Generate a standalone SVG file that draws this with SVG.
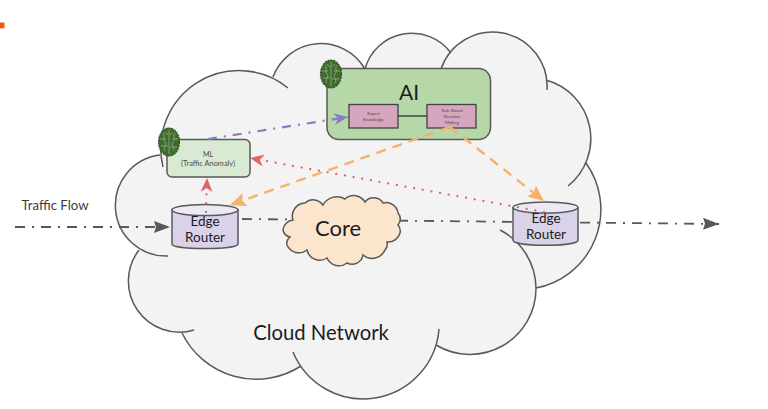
<svg xmlns="http://www.w3.org/2000/svg" width="768" height="409" viewBox="0 0 768 409">
<style>
text{font-family:Lato,"Open Sans",sans-serif;fill:#1c1c1c;text-anchor:middle}
.small{fill:#4a4a4a}
.db{fill:#d9d2e9;stroke:#595959;stroke-width:1.5}
.pink{fill:#d5a6bd;stroke:#434343;stroke-width:1.3}
.flow{fill:none;stroke:#595959;stroke-width:1.8;stroke-dasharray:10 7 2 7}
.orange{fill:none;stroke:#f6b26b;stroke-width:2.4;stroke-dasharray:10 7}
.red{fill:none;stroke:#e06666;stroke-width:2.2;stroke-linecap:round;stroke-dasharray:.1 8.7}
.purple{fill:none;stroke:#8e7cc3;stroke-width:2.2;stroke-dasharray:9 7 2 7}
</style>
<defs>
<marker id="ag" markerWidth="18" markerHeight="14" refX="16" refY="7" orient="auto" markerUnits="userSpaceOnUse"><path d="M0 1L16 7L0 13L2 7Z" fill="#595959"/></marker>
<marker id="ao" markerWidth="18" markerHeight="16" refX="16" refY="8" orient="auto" markerUnits="userSpaceOnUse"><path d="M0 1L16 8L0 15L3 8Z" fill="#f6b26b"/></marker>
<marker id="ar" markerWidth="16" markerHeight="14" refX="14" refY="7" orient="auto" markerUnits="userSpaceOnUse"><path d="M0 1L14 7L0 13L4 7Z" fill="#e06666"/></marker>
<marker id="ap" markerWidth="16" markerHeight="14" refX="14" refY="7" orient="auto" markerUnits="userSpaceOnUse"><path d="M0 1L14 7L0 13L4 7Z" fill="#8e7cc3"/></marker>
<g id="brain">
<ellipse rx="10.500" ry="14" fill="#3f6b2f" stroke="#38572a" stroke-width="1.200" stroke-dasharray="2 1"/>
<path d="M0-12V12M-6-9C-3-6-7-3-4 0S-7 6-4 9M6-9C3-6 7-3 4 0S7 6 4 9M-9-3H-3M3-3H9M-8 4H-1M1 5H8M-4-10L-1-7M4-10L1-7" fill="none" stroke="#a9c79a" stroke-width=".6"/>
</g>
</defs>
<rect width="768" height="409" fill="#fff"/>
<rect x="0" y="22.500" width="4.500" height="5.800" fill="#ee5a0c"/>
<g id="cloud-network">
<path fill="#f3f3f3" d="M163 160L273 77L365 69L451 53L546 81L586 163L536 288L436 345L301 366L182 333L139 250Z"/>
<path fill="#f3f3f3" stroke="#595959" stroke-width="1.500" d="M163 167A78 78 0 0 1 288 88M273 77A51 51 0 0 1 365 69M365 69A48.600 48.600 0 0 1 451 53M441 69A54.500 54.500 0 0 1 547 90M546 80A60.700 60.700 0 0 1 568 186M586 163A80 80 0 0 1 536 288M500 230A66 66 0 0 1 536 288A66 66 0 0 1 436 345M439 329A76 76 0 0 1 293 352M301 366A82.600 82.600 0 0 1 182 333M194 330A51 51 0 0 1 139 250M168 256A50.700 50.700 0 0 1 160 155"/>
<text x="321" y="340" font-size="20.300">Cloud Network</text>
</g>
<g id="traffic-connectors">
<path class="flow" d="M15 227H170" marker-end="url(#ag)"/>
<path class="flow" d="M242 219L719 224" marker-end="url(#ag)"/>
</g>
<g id="ai">
<rect x="327" y="68.500" width="163.500" height="71" rx="12" fill="#b6d7a8" stroke="#595959" stroke-width="1.500"/>
<text x="409" y="100" font-size="21">AI</text>
</g>
<g id="expert-knowledge">
<rect class="pink" x="349" y="104.500" width="49" height="23.500"/>
<text class="small" x="373.500" y="115" font-size="4.300">Expert</text><text class="small" x="373.500" y="121" font-size="4.300">Knowledge</text>
</g>
<g id="rule-based">
<rect class="pink" x="427" y="104.500" width="49" height="23.500"/>
<text class="small" x="452" y="112" font-size="4.300">Rule Based</text><text class="small" x="452" y="118" font-size="4.300">Decision</text><text class="small" x="452" y="123.500" font-size="4.300">Making</text>
</g>
<g id="ml">
<rect x="167" y="139.500" width="83" height="37.500" rx="5" fill="#d9ead3" stroke="#595959" stroke-width="1.500"/>
<text class="small" x="208" y="157" font-size="7">ML</text><text class="small" x="208" y="166" font-size="7.400">(Traffic Anomaly)</text>
</g>
<g id="brain-ai"><use href="#brain" x="331" y="74"/></g>
<g id="brain-ml"><use href="#brain" x="169" y="142"/></g>
<g id="edge-router-left">
<path class="db" d="M172 210V244C172 250 238 250 238 244V210Z"/>
<ellipse class="db" cx="205" cy="210" rx="33" ry="5.500" style="fill:#ece8f4"/>
<text x="205" y="226" font-size="13.500">Edge</text><text x="205" y="242" font-size="13.500">Router</text>
</g>
<g id="edge-router-right">
<path class="db" d="M513 208V240C513 247 578 247 578 240V208Z"/>
<ellipse class="db" cx="545.500" cy="207.500" rx="32.500" ry="5.500" style="fill:#ece8f4"/>
<text x="546" y="223" font-size="13.500">Edge</text><text x="546" y="239" font-size="13.500">Router</text>
</g>
<g id="core">
<path fill="#fce5cd" stroke="#595959" stroke-width="1.500" d="M293 220A13 13 0 0 1 305 203A12 12 0 0 1 323 205A16 16 0 0 1 345 199A13 13 0 0 1 365 202A11 11 0 0 1 383 203A12 12 0 0 1 398 213A9 9 0 0 1 398 225A9 9 0 0 1 400 233A12 12 0 0 1 387 242A9 9 0 0 1 385 250A14 14 0 0 1 363 255A11 11 0 0 1 347 263A13 13 0 0 1 327 258A13 13 0 0 1 307 250A13 13 0 0 1 287 245A8 8 0 0 1 290 237A9 9 0 0 1 283 230A11 11 0 0 1 293 220Z"/>
<text x="338" y="236" font-size="22">Core</text>
</g>
<g id="connectors">
<path d="M398 116H427" fill="none" stroke="#434343" stroke-width="1.500"/>
<path class="purple" d="M208 139L348 117" marker-end="url(#ap)"/>
<path class="orange" d="M450 127L230 205" marker-end="url(#ao)"/>
<path class="orange" d="M450 127L544 201" marker-end="url(#ao)"/>
<path class="red" d="M206 212L207 178" marker-end="url(#ar)"/>
<path class="red" d="M544 212L250 158" marker-end="url(#ar)"/>
</g>
<text x="55" y="210" font-size="13.200" id="traffic-flow" style="fill:#3c3c3c">Traffic Flow</text>
</svg>
